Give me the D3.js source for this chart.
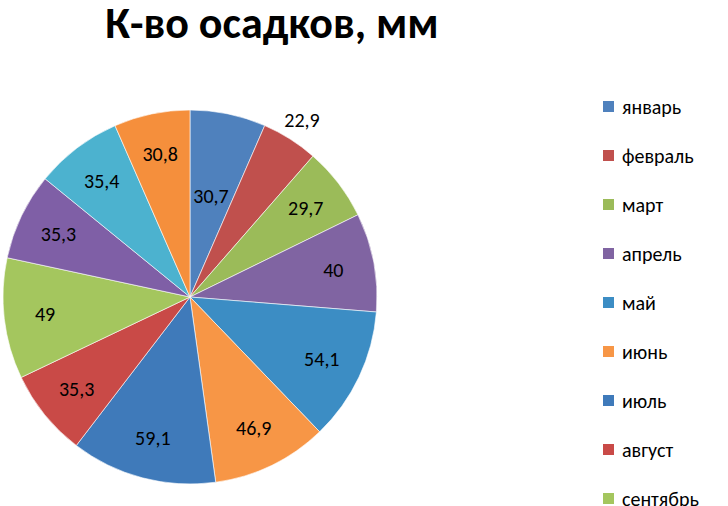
<!DOCTYPE html>
<html><head><meta charset="utf-8">
<script src="https://cdn.jsdelivr.net/npm/d3@7"></script>
<style>body{margin:0;background:#fff;font-family:Carlito,"Liberation Sans",sans-serif}</style>
</head><body><svg id="c" width="728" height="506"></svg>
<script>
const months = ["январь","февраль","март","апрель","май","июнь","июль","август","сентябрь","октябрь","ноябрь","декабрь"];
const values = [30.7,22.9,29.7,40,54.1,46.9,59.1,35.3,49,35.3,35.4,30.8];
const colors = ["#4F81BD","#C0504D","#9BBB59","#8064A2","#3C8DC4","#F79646","#3F7ABA","#C94A47","#A4C65E","#7F5FA6","#4CB2CF","#F58F3C"];

const svg = d3.select("#c");
const cx = 190, cy = 297, r = 187;

svg.append("text").attr("x", 272).attr("y", 38).attr("text-anchor", "middle")
  .attr("font-size", 44).attr("font-weight", "bold").text("К-во осадков, мм");

const pie = d3.pie().sort(null).value(d => d);
const arcs = pie(values);
const arc = d3.arc().innerRadius(0).outerRadius(r);
const g = svg.append("g").attr("transform", `translate(${cx},${cy})`);

g.selectAll("path").data(arcs).enter().append("path")
  .attr("d", arc).attr("fill", (d, i) => colors[i])
  .attr("stroke", "#fff").attr("stroke-width", 0.6);

g.selectAll("text.lbl").data(arcs).enter().append("text")
  .attr("class", "lbl")
  .attr("transform", d => {
    const a = (d.startAngle + d.endAngle) / 2;
    const k = d.value < 25 ? 1.12 : (d.index === 0 ? 0.55 : 0.78);
    return `translate(${Math.sin(a) * r * k},${-Math.cos(a) * r * k})`;
  })
  .attr("text-anchor", "middle").attr("dy", "0.35em").attr("font-size", 20)
  .text(d => String(d.value).replace(".", ","));

const leg = svg.append("g");
const ly = d3.scaleLinear().domain([0, 1]).range([107, 156]);
months.forEach((m, i) => {
  const y = ly(i);
  if (y > 510) return;
  leg.append("rect").attr("x", 603).attr("y", y - 6).attr("width", 11).attr("height", 11).attr("fill", colors[i]);
  leg.append("text").attr("x", 622).attr("y", y).attr("dy", "0.35em").attr("font-size", 20).text(m);
});
</script></body></html>
